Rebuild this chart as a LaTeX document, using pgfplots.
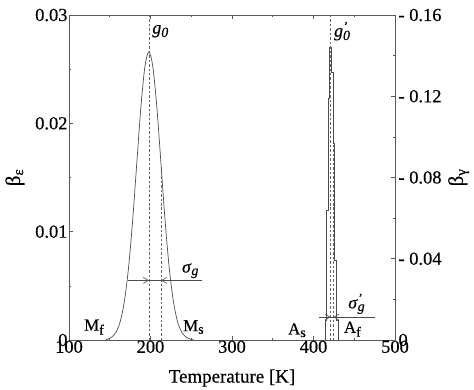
\documentclass[border=0pt]{standalone}
\usepackage{fontspec}
\setmainfont[FakeBold=0.4]{Liberation Serif}
\usepackage{pgfplots}
\pgfplotsset{compat=1.18}
\usetikzlibrary{arrows.meta}
\begin{document}
\begin{tikzpicture}[font=\fontsize{18}{21}\selectfont]
\pgfplotsset{
  every axis/.append style={
    scale only axis, width=326bp, height=325bp,
    xmin=100, xmax=500,
    scaled x ticks=false, scaled y ticks=false,
    axis line style={black!65, line width=0.8pt},
    tick style={black!65, line width=0.6pt},
    major tick length=4bp, minor tick length=2.5bp,
    tick align=inside,
    /pgf/number format/assume math mode=true,
    tick label style={font=\fontsize{18.5}{22}\selectfont},
    label style={font=\fontsize{19}{22}\selectfont},
  },
}
\begin{axis}[name=main,
  ymin=0, ymax=0.03,
  axis y line*=left,
  ytick={0,0.01,0.02,0.03}, yticklabels={0,0.01,0.02,0.03},
  minor ytick={0.005,0.015,0.025},
  xtick={100,200,300,400,500}, xticklabels={100,200,300,400,500},
  minor xtick={150,250,350,450},
  yticklabel style={xshift=2bp},
  xticklabel style={yshift=3bp},
  xlabel={Temperature [K]},
  xlabel style={at={(axis description cs:0.5,-0.117)}, anchor=center},
  ylabel={β\textsubscript{ε}},
  ylabel style={at={(axis description cs:-0.166,0.5)}, anchor=center, rotate=0, font=\fontsize{21}{24}\selectfont},
]
\addplot[black!70, line width=0.7pt, smooth] coordinates {
(145,0) (148,0.0001) (153,0.0003) (158,0.00076) (163,0.00175) (168,0.0036)
(173,0.00663) (178,0.01094) (183,0.01613) (188,0.0213) (193,0.02516)
(198,0.0266)
(203,0.02516) (208,0.0213) (213,0.01613) (218,0.01094) (223,0.00663)
(228,0.0036) (233,0.00175) (238,0.00076) (243,0.0003) (248,0.0001) (253,0)
};
\draw[black!60, line width=0.6pt, dash pattern=on 2.5pt off 2pt] (axis cs:198,0) -- (axis cs:198,0.03);
\draw[black!60, line width=0.6pt, dash pattern=on 2.5pt off 2pt] (axis cs:213,0) -- (axis cs:213,0.0161);
\draw[black!70, line width=0.6pt] (axis cs:172,0.0055) -- (axis cs:263,0.0055);
\draw[black!70, line width=0.6pt, -{Straight Barb[length=5bp,width=6bp]}] (axis cs:178,0.0055) -- (axis cs:198,0.0055);
\draw[black!70, line width=0.6pt, -{Straight Barb[length=5bp,width=6bp]}] (axis cs:233,0.0055) -- (axis cs:213,0.0055);
\node[anchor=west, inner sep=0pt, font=\fontsize{18}{21}\selectfont] at (axis cs:202,0.0285) {\textit{g}\textsubscript{\fontsize{14}{16}\selectfont\textit{0}}};
\node[anchor=center, inner sep=0pt, font=\fontsize{18}{21}\selectfont] at (axis cs:249,0.0064) {\textit{σ}\textsubscript{\fontsize{14}{16}\selectfont\textit{g}}};
\node[anchor=center, inner sep=0pt, font=\fontsize{17}{20}\selectfont] at (axis cs:131,0.0012) {M\textsubscript{\fontsize{14}{16}\selectfont f}};
\node[anchor=center, inner sep=0pt, font=\fontsize{17}{20}\selectfont] at (axis cs:253,0.0012) {M\textsubscript{\fontsize{14}{16}\selectfont s}};
\node[anchor=center, inner sep=0pt, font=\fontsize{17}{20}\selectfont] at (axis cs:380,0.0009) {A\textsubscript{\fontsize{14}{16}\selectfont s}};
\node[anchor=center, inner sep=0pt, font=\fontsize{17}{20}\selectfont] at (axis cs:448,0.0010) {A\textsubscript{\fontsize{14}{16}\selectfont f}};
\end{axis}
\begin{axis}[
  ymin=0, ymax=0.16,
  axis y line*=right, axis x line=none,
  ytick={0,0.04,0.08,0.12,0.16},
  yticklabels={0,{- 0.04},{- 0.08},{- 0.12},{- 0.16}},
  minor ytick={0.02,0.06,0.10,0.14},
  ylabel={β\textsubscript{γ}},
  ylabel style={at={(axis description cs:1.195,0.5)}, anchor=center, rotate=0, font=\fontsize{21}{24}\selectfont},
]
\addplot[black!70, line width=0.7pt, const plot] coordinates {
(414,0) (414,0.0098) (416,0.064) (418,0.119) (420,0.144) (422,0.132)
(424,0.097) (426,0.039) (428,0.0098) (430,0)
};
\draw[black!60, line width=0.6pt, dash pattern=on 2.5pt off 2pt] (axis cs:421,0) -- (axis cs:421,0.16);
\draw[black!60, line width=0.6pt, dash pattern=on 2.5pt off 2pt] (axis cs:424.5,0) -- (axis cs:424.5,0.097);
\draw[black!70, line width=0.6pt] (axis cs:407,0.0113) -- (axis cs:475,0.0113);
\draw[black!70, line width=0.6pt, -{Straight Barb[length=5bp,width=6bp]}] (axis cs:410,0.0113) -- (axis cs:421,0.0113);
\draw[black!70, line width=0.6pt, -{Straight Barb[length=5bp,width=6bp]}] (axis cs:436,0.0113) -- (axis cs:424.5,0.0113);
\node[anchor=west, inner sep=0pt, font=\fontsize{18}{21}\selectfont] at (axis cs:425,0.152) {\textit{g}\rlap{\textsuperscript{\textit{'}}}\textsubscript{\fontsize{14}{16}\selectfont\textit{0}}};
\node[anchor=center, inner sep=0pt, font=\fontsize{18}{21}\selectfont] at (axis cs:453,0.0178) {\textit{σ}\rlap{\textsuperscript{\textit{'}}}\textsubscript{\fontsize{14}{16}\selectfont\textit{g}}};
\end{axis}
\pgfresetboundingbox
\path[use as bounding box] ([shift={(-69bp,-50bp)}]main.south west) rectangle ([shift={(79bp,15bp)}]main.north east);
\end{tikzpicture}
\end{document}
